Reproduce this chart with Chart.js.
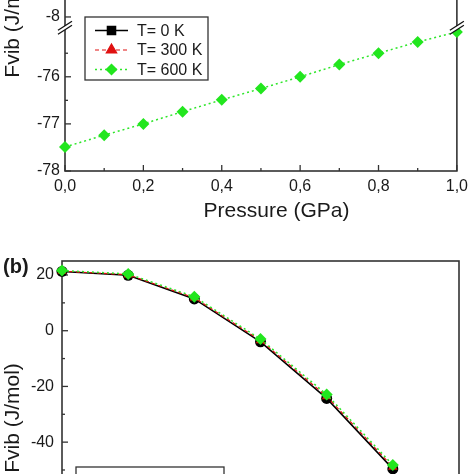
<!DOCTYPE html>
<html>
<head>
<meta charset="utf-8">
<script src="https://cdn.jsdelivr.net/npm/chart.js@4.4.0/dist/chart.umd.min.js"></script>
<style>
  html, body { margin: 0; padding: 0; background: #fff; }
  body { width: 474px; height: 474px; overflow: hidden; position: relative; }
  canvas { position: absolute; left: 0; }
  #chartA { top: -140px; }
  #chartB { top: 240px; }
</style>
</head>
<body>
<canvas id="chartA" width="474" height="380"></canvas>
<canvas id="chartB" width="474" height="360"></canvas>
<script>
// ---- data, panel (a) ----
const seriesNames = ['T= 0 K', 'T= 300 K', 'T= 600 K'];
const pressure = [0, 0.1, 0.2, 0.3, 0.4, 0.5, 0.6, 0.7, 0.8, 0.9, 1.0];
const fvibA0 = [];    // above the axis break, outside the crop
const fvibA300 = [];  // above the axis break, outside the crop
const fvibA600 = [-77.49, -77.24, -77.00, -76.74, -76.49, -76.25, -76.00, -75.74, -75.50, -75.26, -75.05];
const xTicksA = [0, 0.2, 0.4, 0.6, 0.8, 1.0];
const xMinorA = [0.1, 0.3, 0.5, 0.7, 0.9];
const yTicksA = [-78, -77, -76];
const yMinorA = [-77.5, -76.5, -75.5];
const yBreakLabelA = '-8';

// ---- data, panel (b) ----
const xB = [0, 1, 2, 3, 4, 5];
const fvibB0 = [21.3, 19.9, 11.4, -4.0, -24.3, -49.6];
const fvibB300 = [21.4, 20.1, 11.8, -3.5, -23.6, -48.9];
const fvibB600 = [21.6, 20.4, 12.2, -3.0, -22.9, -48.2];
const yTicksB = [-80, -60, -40, -20, 0, 20];
const yMinorB = [-70, -50, -30, -10, 10];

const FONT = '"Liberation Sans", Arial, sans-serif';
const INK = '#1a1a1a';
const AXIS = '#333';

function pts(xs, ys) {
  return ys.map((y, i) => ({ x: xs[i], y: y }));
}

function styles() {
  return [
    { borderColor: '#000', backgroundColor: '#000', borderWidth: 1.5, borderDash: [], order: 3 },
    { borderColor: '#e01010', backgroundColor: '#e01010', borderWidth: 1.2, borderDash: [4, 3], order: 2 },
    { borderColor: '#2ee62a', backgroundColor: '#22e61e', borderWidth: 1.5, borderDash: [2, 3], order: 1 }
  ];
}

// frame, inward ticks, optional axis break and free-placed texts
const frame = {
  id: 'frame',
  beforeDatasetsDraw(chart, args, o) {
    const { ctx, chartArea: a, scales } = chart;
    ctx.save();
    ctx.strokeStyle = AXIS;
    ctx.lineWidth = 1.6;
    ctx.strokeRect(a.left, a.top, a.right - a.left, a.bottom - a.top);
    ctx.lineWidth = 1.3;
    const tick = (len, vals, axis) => {
      vals.forEach(v => {
        ctx.beginPath();
        if (axis === 'y') {
          const py = scales.y.getPixelForValue(v);
          ctx.moveTo(a.left, py); ctx.lineTo(a.left + len, py);
        } else {
          const px = scales.x.getPixelForValue(v);
          ctx.moveTo(px, a.bottom); ctx.lineTo(px, a.bottom - len);
        }
        ctx.stroke();
      });
    };
    tick(6, o.xMajor, 'x'); tick(3, o.xMinor, 'x');
    tick(6, o.yMajor, 'y'); tick(3, o.yMinor, 'y');
    ctx.restore();
  },
  afterDraw(chart, args, o) {
    const { ctx, chartArea: a, scales } = chart;
    ctx.save();
    if (o.breakAt !== undefined) {
      const yc = scales.y.getPixelForValue(o.breakAt);
      [a.left, a.right].forEach(x => {
        ctx.fillStyle = '#fff';
        ctx.beginPath();
        ctx.moveTo(x - 7, yc + 2.5); ctx.lineTo(x + 7, yc - 6.5);
        ctx.lineTo(x + 7, yc - 2.5); ctx.lineTo(x - 7, yc + 6.5);
        ctx.closePath(); ctx.fill();
        ctx.strokeStyle = '#111'; ctx.lineWidth = 1.3;
        [-2, 2].forEach(d => {
          ctx.beginPath();
          ctx.moveTo(x - 7, yc + d + 4.5); ctx.lineTo(x + 7, yc + d - 4.5);
          ctx.stroke();
        });
      });
    }
    (o.texts || []).forEach(t => {
      ctx.fillStyle = INK;
      ctx.font = t.font;
      ctx.textAlign = t.align || 'left';
      ctx.textBaseline = 'middle';
      ctx.fillText(t.text, t.x, t.y);
    });
    ctx.restore();
  }
};

// boxed legend with line + marker samples
const boxLegend = {
  id: 'boxLegend',
  afterDraw(chart, args, o) {
    const ctx = chart.ctx;
    ctx.save();
    ctx.strokeStyle = AXIS; ctx.lineWidth = 1.3;
    ctx.strokeRect(o.x, o.y, o.w, o.h);
    chart.data.datasets.forEach((ds, i) => {
      const cy = o.y + 13.5 + i * 19.5;
      ctx.strokeStyle = ds.borderColor;
      ctx.lineWidth = ds.borderWidth;
      ctx.setLineDash(ds.borderDash || []);
      ctx.beginPath(); ctx.moveTo(o.x + 10, cy); ctx.lineTo(o.x + 43, cy); ctx.stroke();
      ctx.setLineDash([]);
      ctx.fillStyle = ds.backgroundColor;
      ctx.strokeStyle = ds.backgroundColor;
      Chart.helpers.drawPoint(ctx, { pointStyle: o.markers[i], radius: o.radii[i], borderWidth: 1, rotation: 0 }, o.x + 26.5, cy);
      ctx.fillStyle = INK;
      ctx.font = '16px ' + FONT;
      ctx.textBaseline = 'middle';
      ctx.fillText(ds.label, o.x + 52, cy + 1);
    });
    ctx.restore();
  }
};

// ---------- panel (a) ----------
const stA = styles();
const dataA = [fvibA0, fvibA300, fvibA600];
const markersA = ['rect', 'triangle', 'rectRot'];
new Chart(document.getElementById('chartA'), {
  type: 'line',
  data: {
    datasets: dataA.map((d, i) => Object.assign({
      label: seriesNames[i],
      data: pts(pressure, d),
      pointStyle: markersA[i],
      pointRadius: 6,
      pointBorderWidth: 0,
      clip: false,
      tension: 0
    }, stA[i]))
  },
  options: {
    responsive: false,
    animation: false,
    layout: { padding: { top: 9, right: 12, left: 0, bottom: 0 } },
    plugins: {
      legend: { display: false },
      tooltip: { enabled: false },
      frame: {
        xMajor: xTicksA, xMinor: xMinorA, yMajor: yTicksA.concat([-74.73]), yMinor: yMinorA, breakAt: -74.96,
        texts: [{ text: 'Pressure (GPa)', x: 276.5, y: 351.5, align: 'center', font: '21px ' + FONT }]
      },
      boxLegend: { x: 85, y: 157, w: 123, h: 63, markers: markersA, radii: [5.7, 6, 5] }
    },
    scales: {
      x: {
        type: 'linear', min: 0, max: 1,
        afterFit(s) { s.height = 69; },
        afterBuildTicks(s) { s.ticks = xTicksA.map(v => ({ value: v })); },
        grid: { display: false, drawTicks: false }, border: { display: false },
        ticks: { color: INK, font: { family: FONT, size: 16 }, padding: 6, maxRotation: 0, autoSkip: false,
                 callback: v => v.toFixed(1).replace('.', ',') }
      },
      y: {
        min: -78, max: -71.708,
        afterFit(s) { s.width = 65; },
        afterBuildTicks(s) { s.ticks = yTicksA.concat([-74.73]).map(v => ({ value: v })); },
        grid: { display: false, drawTicks: false }, border: { display: false },
        ticks: { color: INK, font: { family: FONT, size: 16 }, padding: 5, autoSkip: false,
                 callback: v => (yTicksA.includes(v) ? String(v) : yBreakLabelA) },
        title: { display: true, text: 'Fvib (J/mol)', color: INK, font: { family: FONT, size: 21, lineHeight: 1.24 }, padding: { top: 0, bottom: 0 } }
      }
    }
  },
  plugins: [frame, boxLegend]
});

// ---------- panel (b) ----------
const stB = styles();
const dataB = [fvibB0, fvibB300, fvibB600];
const markersB = ['circle', 'triangle', 'rectRot'];
new Chart(document.getElementById('chartB'), {
  type: 'line',
  data: {
    datasets: dataB.map((d, i) => Object.assign({
      label: seriesNames[i],
      data: pts(xB, d),
      pointStyle: markersB[i],
      pointRadius: i === 2 ? 6 : 5.5,
      pointBorderWidth: 0,
      clip: false,
      tension: 0
    }, stB[i]))
  },
  options: {
    responsive: false,
    animation: false,
    layout: { padding: { top: 21, right: 15, left: 0, bottom: 0 } },
    plugins: {
      legend: { display: false },
      tooltip: { enabled: false },
      frame: {
        xMajor: [0, 2, 4, 6], xMinor: [1, 3, 5], yMajor: yTicksB, yMinor: yMinorB,
        texts: [{ text: '(b)', x: 3, y: 27, font: 'bold 20px ' + FONT }]
      },
      boxLegend: { x: 76, y: 227, w: 148, h: 63, markers: markersB, radii: [5, 6, 5] }
    },
    scales: {
      x: {
        type: 'linear', min: 0, max: 6,
        afterFit(s) { s.height = 25; },
        grid: { display: false, drawTicks: false }, border: { display: false },
        ticks: { color: INK, font: { family: FONT, size: 16 }, padding: 5 }
      },
      y: {
        min: -87.7, max: 25.03,
        afterFit(s) { s.width = 62; },
        afterBuildTicks(s) { s.ticks = yTicksB.map(v => ({ value: v })); },
        grid: { display: false, drawTicks: false }, border: { display: false },
        ticks: { color: INK, font: { family: FONT, size: 16 }, padding: 8, autoSkip: false },
        title: { display: true, text: 'Fvib (J/mol)', color: INK, font: { family: FONT, size: 21, lineHeight: 1.24 }, padding: { top: 0, bottom: 0 } }
      }
    }
  },
  plugins: [frame, boxLegend]
});
</script>
</body>
</html>
